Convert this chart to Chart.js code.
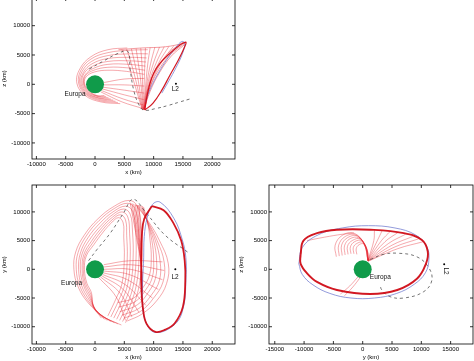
<!DOCTYPE html>
<html><head><meta charset="utf-8">
<script src="https://cdn.jsdelivr.net/npm/chart.js@4/dist/chart.umd.min.js"></script>
<style>
html,body{margin:0;padding:0;background:#fff;width:474px;height:361px;overflow:hidden;position:relative}
.box{position:absolute}
</style></head><body>
<div class="box" style="left:0;top:-2px;width:237px;height:182px"><canvas id="c1" width="237" height="182"></canvas></div>
<div class="box" style="left:0;top:183px;width:237px;height:178px"><canvas id="c2" width="237" height="178"></canvas></div>
<div class="box" style="left:237px;top:183px;width:237px;height:178px"><canvas id="c3" width="237" height="178"></canvas></div>
<script>
// ---------- tick labels ----------
const xTicksXY = [-10000,-5000,0,5000,10000,15000,20000];
const xTicksYZ = [-15000,-10000,-5000,0,5000,10000,15000];
const vTicks = [-10000,-5000,0,5000,10000];

// ---------- panel 1 : x-z ----------
const p1Arcs = [
 [[4300,-3300],[1000,-3000],[-1700,-1900],[-3100,200],[-2600,2600],[-700,4700],[2200,5900],[5500,6200]],
 [[3900,-3100],[900,-2800],[-1600,-1700],[-2800,200],[-2400,2400],[-700,4300],[2200,5400],[5800,5800],[9000,5900]],
 [[3500,-2900],[800,-2600],[-1500,-1600],[-2600,200],[-2200,2200],[-600,3900],[2200,4900],[6000,5200],[9000,5200]],
 [[3100,-2700],[700,-2400],[-1400,-1500],[-2400,200],[-2000,2000],[-500,3500],[2200,4400],[6000,4600],[8800,4500]],
 [[2700,-2500],[600,-2300],[-1300,-1400],[-2200,200],[-1900,1800],[-400,3100],[2200,3900],[6000,4000],[8700,3800]],
 [[2300,-2300],[500,-2100],[-1200,-1300],[-2000,200],[-1700,1600],[-300,2700],[2200,3400],[5800,3400],[8600,3100]],
 [[1900,-2100],[400,-2000],[-1100,-1200],[-1900,200],[-1600,1500],[-200,2400],[2200,2900],[5600,2800],[8500,2400]],
 [[1600,-1900],[300,-1900],[-1000,-1100],[-1800,200],[-1500,1300],[-100,2100],[2200,2400],[5400,2200],[8400,1700]]
];
const p1Fan = [
 [[4600,5900],[5600,3500],[6600,500],[8000,-4200]],
 [[5400,6000],[6200,3500],[7000,500],[8050,-4200]],
 [[6200,6050],[6800,3500],[7400,500],[8100,-4250]],
 [[7000,6100],[7400,3500],[7800,500],[8150,-4250]],
 [[7800,6150],[8000,3500],[8100,500],[8200,-4300]],
 [[8600,6200],[8500,3500],[8400,500],[8250,-4300]],
 [[9400,6250],[9000,3500],[8700,500],[8300,-4300]],
 [[10200,6300],[9500,3600],[8900,500],[8300,-4300]],
 [[11000,6350],[10000,3700],[9100,500],[8350,-4300]],
 [[11800,6400],[10500,3800],[9300,500],[8350,-4350]],
 [[12600,6450],[11000,3900],[9500,500],[8400,-4350]],
 [[13400,6500],[11500,4000],[9700,500],[8400,-4350]]
];
const p1Rad = [
 [[1500,300],[5000,900],[8400,1000]],
 [[1500,-100],[5000,-100],[8400,-300]],
 [[1400,-500],[5000,-1000],[8400,-1500]],
 [[1300,-800],[5000,-1800],[8300,-2600]],
 [[1200,-1100],[4800,-2500],[8200,-3500]],
 [[1000,-1300],[4600,-3000],[8100,-4100]]
];
const p1Band = [
 [[8300,-4300],[9200,-1000],[10700,2200],[12800,5000],[15300,7000]],
 [[8350,-4300],[9400,-1200],[11000,2000],[13000,4800],[15200,6700]],
 [[8400,-4300],[9000,-800],[10400,2400],[12400,5200],[15000,7200]],
 [[4000,5900],[8000,6200],[12000,6400],[15300,7000]]
];
const p1Halo = [[8500,-4400],[8800,-2400],[9300,-100],[10000,1900],[11100,3600],[12800,5300],[14500,6700],[15500,7200],[15300,6400],[14200,4100],[12800,1600],[11400,-1000],[9900,-3200],[8500,-4400]];
const p1Blue = [[8600,-3000],[9500,-600],[10800,1900],[12300,4300],[13800,6300],[14800,7300],[15300,7000],[14900,5200],[13800,2800],[12600,600],[11400,-1500]];
const p1Dash = [[-1000,2600],[1500,4000],[4000,5300],[5600,5600],[6000,2500],[6600,-1000],[7400,-3300],[8300,-4400],[10500,-4100],[12500,-3600],[14500,-3000],[16200,-2500]];
const p1Labels = [['Europa',-3400,-1700],['L2',13700,-900]];
const p1L2 = [[13800,100]];

// ---------- panel 2 : x-y ----------
const p2Loops = [
 [[4500,-9700],[1500,-8300],[-1200,-5800],[-2900,-3000],[-3600,0],[-3300,3000],[-1800,6000],[500,8800],[3300,11000],[5800,12000],[7200,11000],[7900,7000],[8000,2000],[7600,-2500],[6500,-6500],[5200,-9300]],
 [[3900,-9500],[1100,-8000],[-1100,-5600],[-2600,-2900],[-3200,0],[-2900,2900],[-1500,5800],[700,8500],[3300,10600],[5500,11500],[6800,10600],[7400,7000],[7500,2000],[7100,-2500],[6000,-6300],[4700,-9100]],
 [[3300,-9300],[700,-7700],[-1000,-5300],[-2300,-2800],[-2800,0],[-2500,2800],[-1200,5500],[900,8100],[3200,10100],[5200,11000],[6400,10100],[6900,6800],[7000,2000],[6600,-2500],[5500,-6100],[4200,-8900]],
 [[2700,-9100],[400,-7400],[-900,-5000],[-2000,-2700],[-2500,0],[-2200,2700],[-900,5200],[1100,7700],[3100,9600],[4900,10500],[6000,9600],[6400,6500],[6500,2000],[6100,-2500],[5000,-5900],[3700,-8700]],
 [[2100,-8900],[100,-7100],[-800,-4700],[-1800,-2600],[-2200,0],[-1900,2600],[-600,4900],[1200,7300],[3000,9100],[4600,10000],[5600,9100],[5900,6200],[6000,2000],[5600,-2500],[4500,-5700],[3200,-8500]],
 [[1600,-8700],[-100,-6800],[-700,-4400],[-1600,-2500],[-2000,0],[-1700,2400],[-400,4600],[1300,6900],[2900,8600],[4300,9500],[5200,8600],[5400,5900],[5500,2000],[5100,-2500],[4000,-5500],[2700,-8300]],
 [[1100,-8500],[-300,-6500],[-600,-4100],[-1400,-2400],[-1800,0],[-1500,2300],[-200,4300],[1400,6500],[2800,8100],[4000,9000],[4800,8100],[4900,5600],[5000,2000],[4600,-2500],[3500,-5300],[2200,-8100]]
];
const p2Wedge = [
 [[6000,11600],[7100,5500],[7950,0],[8000,-4000]],
 [[6300,11500],[7250,5500],[7950,0],[8000,-4000]],
 [[6600,11400],[7400,5500],[7950,0],[8000,-4000]],
 [[6900,11300],[7550,5500],[7950,0],[8000,-4000]],
 [[7200,11200],[7700,5500],[7950,0],[8000,-4000]],
 [[7500,11150],[7850,5500],[7950,0],[8000,-4000]]
];
const p2Arcs = [
 [[7000,11200],[9000,8500],[11000,5000],[12500,1000],[12200,-2500],[10500,-5500],[8000,-7800],[5500,-9000]],
 [[7300,11200],[9000,8300],[10600,5000],[11800,1200],[11600,-2200],[10000,-5000],[7800,-7300],[5000,-8500]],
 [[7600,11200],[9000,8200],[10300,5000],[11100,1400],[11000,-1900],[9600,-4500],[7500,-6800],[4600,-8000]],
 [[7900,11100],[9000,8000],[10000,5000],[10500,1600],[10300,-1600],[9100,-4000],[7200,-6200],[4200,-7400]],
 [[8100,11000],[9000,8000],[9700,5000],[10000,1800],[9800,-1300],[8700,-3500],[6900,-5600],[4000,-6600]],
 [[8300,10800],[9000,8000],[9400,5000],[9600,2000],[9300,-1000],[8300,-3000],[6600,-5000],[3900,-5800]]
];
const p2Fan = [
 [[1500,800],[6000,1500],[11500,1300]],
 [[1500,400],[6000,800],[11800,-200]],
 [[1500,0],[6000,0],[11500,-1800]],
 [[1500,-300],[5800,-900],[10800,-3500]],
 [[1400,-600],[5500,-1800],[9800,-5000]],
 [[1300,-900],[5200,-2700],[8700,-6300]],
 [[1100,-1100],[4800,-3500],[7500,-7500]],
 [[900,-1300],[4300,-4200],[6300,-8300]],
 [[600,-1400],[3600,-4800],[5200,-8900]]
];
const p2Halo = [[9700,11000],[11700,10300],[13400,8000],[14700,5000],[15300,1500],[15400,-2000],[15000,-6500],[13600,-9400],[12000,-10500],[10300,-10900],[8800,-9500],[8200,-7000],[7900,-3000],[7900,2000],[8000,6000],[8400,8800],[9700,11000]];
const p2Blue = [[8300,2000],[8400,5700],[8900,9000],[9800,11300],[11100,11700],[13500,8800],[14900,5100],[15500,2000],[15500,-2000],[15100,-6500],[13700,-9500],[10300,-11000],[8600,-9000],[8100,-5000],[8300,2000]];
const p2Dash = [[-1100,1500],[300,3400],[2600,6300],[4800,9700],[6500,12200],[8800,9700],[12000,5900],[15800,3000]];
const p2Labels = [['Europa',-4000,-2400],['L2',13650,-1300]];
const p2L2 = [[13700,0]];

// ---------- panel 3 : y-z ----------
const p3Fan = [
 [[10300,4800],[6000,3600],[900,1400]],
 [[9500,5300],[5500,3900],[900,1400]],
 [[8500,5700],[5000,4200],[900,1500]],
 [[7300,6100],[4400,4500],[900,1500]],
 [[6000,6400],[3800,4800],[900,1500]],
 [[4700,6600],[3200,5000],[900,1600]],
 [[3300,6700],[2500,5000],[900,1600]],
 [[2000,6800],[1900,5000],[900,1600]]
];
const p3Loops = [
 [[-4500,2200],[-4700,4200],[-3500,5900],[-1500,6300],[200,4500],[900,1500]],
 [[-4000,2300],[-4100,4200],[-3000,5700],[-1200,6000],[300,4300],[900,1500]],
 [[-3500,2400],[-3600,4200],[-2600,5500],[-900,5800],[400,4100],[900,1500]],
 [[-3000,2500],[-3100,4100],[-2200,5300],[-700,5500],[500,3900],[900,1500]],
 [[-2500,2600],[-2600,4000],[-1800,5000],[-400,5300],[600,3700],[900,1500]],
 [[-2000,2700],[-2100,3900],[-1400,4800],[-200,5000],[700,3500],[950,1500]],
 [[-1500,2700],[-1600,3800],[-1000,4500],[0,4700],[800,3300],[950,1500]],
 [[-1000,2600],[-1100,3600],[-600,4300],[200,4400],[800,3100],[950,1500]]
];
const p3Tails = [
 [[-700,-1200],[-2200,-2900],[-3800,-4300]],
 [[-400,-1400],[-1700,-3100],[-3100,-4600]],
 [[-9500,5000],[-6500,5600],[-3500,6100],[-1500,6300]]
];
const p3Halo = [[-10600,2500],[-10100,5000],[-7800,6300],[-4400,6900],[1300,6900],[7000,6300],[10100,5100],[11100,3100],[10800,1000],[9300,-1600],[5900,-3600],[1300,-4300],[-4400,-3600],[-7800,-2200],[-9500,-700],[-10600,1000],[-10600,2500]];
const p3Blue = [[-10900,1000],[-10300,3800],[-7600,6000],[-3500,7200],[1000,7600],[5500,7200],[9000,6000],[10900,4000],[11300,1800],[10700,-600],[8800,-2600],[5800,-4200],[2000,-5000],[-2000,-5000],[-5600,-4200],[-8500,-2700],[-10300,-900],[-10900,1000]];
const p3Dash = [[1300,1700],[3500,2600],[6000,2800],[9200,2200],[11200,400],[11800,-1900],[10400,-3900],[7000,-5000],[4500,-4700],[3200,-3500],[3000,-2700]];
const p3Labels = [['Europa',3000,-1400]];
const p3RotLabels = [['L2',14100,-300]];
const p3L2 = [[13900,900]];

const europa = [[0,0]];

// ---------- styling ----------
const FONT = '"Liberation Sans", Arial, sans-serif';
const RED = 'rgba(228,30,40,0.55)', HALO = 'rgba(208,12,22,0.95)', BLUE = 'rgba(105,115,205,0.9)', DASH = 'rgba(50,50,50,0.85)', GREEN = '#109b4a';

function curves(list, color, width, dash, order){
  return list.map(c => ({data: c.map(p => ({x:p[0], y:p[1]})), showLine:true, pointRadius:0, borderColor:color,
    borderWidth:width, borderDash:dash || [], tension:0.4, fill:false, order:order}));
}
function points(list, color, r, order){
  return {data: list.map(p => ({x:p[0], y:p[1]})), showLine:false, pointRadius:r, pointBackgroundColor:color,
    pointBorderWidth:0, borderWidth:0, order:order};
}

const framePlugin = {
  id:'frame',
  afterDraw(chart){
    const {ctx, chartArea:a, scales} = chart;
    ctx.save();
    ctx.strokeStyle = '#000'; ctx.lineWidth = 0.8;
    ctx.strokeRect(a.left, a.top, a.right - a.left, a.bottom - a.top);
    const L = 3;
    ctx.beginPath();
    scales.x.ticks.forEach(t => { const p = scales.x.getPixelForValue(t.value);
      ctx.moveTo(p, a.bottom); ctx.lineTo(p, a.bottom - L); ctx.moveTo(p, a.top); ctx.lineTo(p, a.top + L); });
    scales.y.ticks.forEach(t => { const p = scales.y.getPixelForValue(t.value);
      ctx.moveTo(a.left, p); ctx.lineTo(a.left + L, p); ctx.moveTo(a.right, p); ctx.lineTo(a.right - L, p); });
    ctx.stroke();
    ctx.restore();
  }
};
function annot(labels, rotLabels){
  return {id:'annot', afterDatasetsDraw(chart){
    const {ctx, scales:{x, y}} = chart;
    ctx.save();
    ctx.fillStyle = '#111'; ctx.font = '6.5px ' + FONT; ctx.textAlign = 'center'; ctx.textBaseline = 'middle';
    labels.forEach(l => ctx.fillText(l[0], x.getPixelForValue(l[1]), y.getPixelForValue(l[2])));
    (rotLabels || []).forEach(l => { ctx.save(); ctx.translate(x.getPixelForValue(l[1]), y.getPixelForValue(l[2]));
      ctx.rotate(Math.PI / 2); ctx.fillText(l[0], 0, 0); ctx.restore(); });
    ctx.restore();
  }};
}

function makeChart(id, o){
  const tickFont = {family:FONT, size:6};
  return new Chart(document.getElementById(id), {
    type:'scatter',
    data:{datasets:o.datasets},
    options:{
      responsive:false, animation:false, events:[],
      layout:{padding:o.pad, autoPadding:false},
      plugins:{legend:{display:false}, tooltip:{enabled:false}},
      scales:{
        x:{type:'linear', min:o.xr[0], max:o.xr[1], grid:{display:false, drawTicks:false}, border:{display:false},
           afterBuildTicks:s => { s.ticks = o.xt.map(v => ({value:v})); },
           afterFit:s => { s.height = o.xh; s.paddingLeft = 0; s.paddingRight = 0; },
           ticks:{autoSkip:false, maxRotation:0, padding:2, font:tickFont, color:'#000', callback:v => String(v)},
           title:{display:true, text:o.xTitle, font:tickFont, color:'#000', padding:{top:0, bottom:o.xtb}}},
        y:{type:'linear', min:o.yr[0], max:o.yr[1], grid:{display:false, drawTicks:false}, border:{display:false},
           afterBuildTicks:s => { s.ticks = vTicks.map(v => ({value:v})); },
           afterFit:s => { s.width = 32; s.paddingTop = 0; s.paddingBottom = 0; },
           ticks:{autoSkip:false, padding:2, font:tickFont, color:'#000', callback:v => String(v)},
           title:{display:true, text:o.yTitle, font:tickFont, color:'#000', padding:{top:0.8, bottom:0}}}
      }
    },
    plugins:[framePlugin, annot(o.labels, o.rot)]
  });
}

makeChart('c1', {
  pad:{left:0, right:2, top:0, bottom:0}, xh:21, xtb:4,
  xr:[-10750, 23880], yr:[-12740, 14720], xt:xTicksXY, xTitle:'x (km)', yTitle:'z (km)',
  labels:p1Labels,
  datasets:[points(europa, GREEN, 9, 0), points(p1L2, '#000', 1, 1),
    ...curves([p1Halo], HALO, 1.2, null, 2), ...curves([p1Blue], BLUE, 0.8, null, 3),
    ...curves([p1Dash], DASH, 0.8, [3,3], 4),
    ...curves(p1Arcs, RED, 0.7, null, 5), ...curves(p1Fan, RED, 0.7, null, 5),
    ...curves(p1Rad, RED, 0.7, null, 5), ...curves(p1Band, RED, 0.8, null, 5)]
});
makeChart('c2', {
  pad:{left:0, right:2, top:2, bottom:0}, xh:17, xtb:0,
  xr:[-10750, 23880], yr:[-13010, 14685], xt:xTicksXY, xTitle:'x (km)', yTitle:'y (km)',
  labels:p2Labels,
  datasets:[points(europa, GREEN, 9, 0), points(p2L2, '#000', 1, 1),
    ...curves([p2Halo], HALO, 1.8, null, 2), ...curves([p2Blue], BLUE, 0.8, null, 3),
    ...curves([p2Dash], DASH, 0.8, [3,3], 4),
    ...curves(p2Loops, RED, 0.7, null, 5), ...curves(p2Wedge, RED, 0.8, null, 5),
    ...curves(p2Arcs, RED, 0.7, null, 5), ...curves(p2Fan, RED, 0.7, null, 5)]
});
makeChart('c3', {
  pad:{left:0, right:1, top:2, bottom:0}, xh:17, xtb:0,
  xr:[-15985, 18817], yr:[-13010, 14685], xt:xTicksYZ, xTitle:'y (km)', yTitle:'z (km)',
  labels:p3Labels, rot:p3RotLabels,
  datasets:[points(europa, GREEN, 9, 0), points(p3L2, '#000', 1, 1),
    ...curves([p3Halo], HALO, 1.9, null, 2), ...curves([p3Blue], BLUE, 0.8, null, 3),
    ...curves([p3Dash], DASH, 0.8, [3,3], 4),
    ...curves(p3Fan, RED, 0.7, null, 5), ...curves(p3Loops, RED, 0.7, null, 5),
    ...curves(p3Tails, RED, 0.7, null, 5)]
});
</script>
</body></html>
